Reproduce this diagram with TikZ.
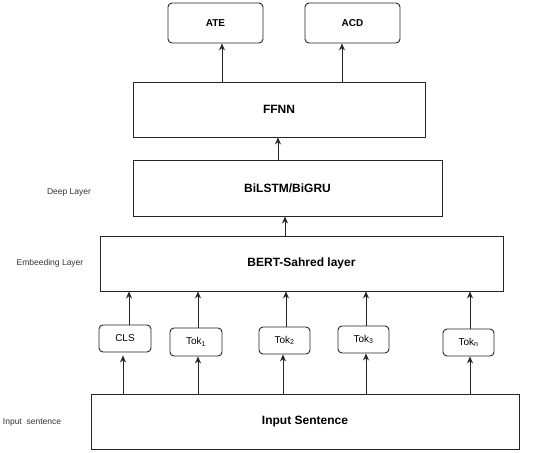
\documentclass[tikz,border=0pt]{standalone}
\usepackage{fontspec}
\setmainfont{Liberation Sans}
\usetikzlibrary{arrows.meta}
\begin{document}
\begin{tikzpicture}[x=1pt,y=-1pt,
  box/.style={draw=black!85,line width=0.9pt,fill=white,inner sep=0pt},
  rbox/.style={box,rounded corners=4pt},
  big/.style={font=\bfseries\fontsize{12}{14}\selectfont},
  mid/.style={font=\bfseries\fontsize{10}{12}\selectfont},
  tok/.style={font=\fontsize{10}{12}\selectfont},
  lab/.style={font=\fontsize{8.5}{10}\selectfont,text=black!80},
  arr/.style={draw=black!85,line width=0.9pt,-{Stealth[length=7pt,width=6pt]}}]
\useasboundingbox (0,0) rectangle (550,453);
% boxes
\node[rbox,minimum width=95pt,minimum height=40pt] (ate) at (215.5,23) {};
\node[mid] at (ate.center) {ATE};
\node[rbox,minimum width=95pt,minimum height=40pt] (acd) at (352.5,23) {};
\node[mid] at (acd.center) {ACD};
\node[box,minimum width=292pt,minimum height=55pt] (ffnn) at (279,109.5) {};
\node[big] at (ffnn.center) {FFNN};
\node[box,minimum width=309pt,minimum height=56pt] (bil) at (287.5,188) {};
\node[big] at (bil.center) {BiLSTM/BiGRU};
\node[box,minimum width=403pt,minimum height=55pt] (bert) at (301.5,263.5) {};
\node[big] at (bert.center) {BERT-Sahred layer};
\node[box,minimum width=428pt,minimum height=55pt] (inp) at (305,421.5) {};
\node[big] at (inp.center) {Input Sentence};
% tokens
\node[rbox,minimum width=52pt,minimum height=27pt] (cls) at (125,338.5) {};
\node[tok] at (cls.center) {CLS};
\node[rbox,minimum width=52pt,minimum height=28pt] (t1) at (196,342) {};
\node[tok] at (t1.center) {Tok\textsubscript{1}};
\node[rbox,minimum width=51pt,minimum height=27pt] (t2) at (284.5,340.5) {};
\node[tok] at (t2.center) {Tok\textsubscript{2}};
\node[rbox,minimum width=51pt,minimum height=27pt] (t3) at (363.5,339.5) {};
\node[tok] at (t3.center) {Tok\textsubscript{3}};
\node[rbox,minimum width=51pt,minimum height=27pt] (tn) at (468.5,342.5) {};
\node[tok] at (tn.center) {Tok\textsubscript{n}};
% side labels
\node[lab] (l1) at (69,192) {Deep Layer};
\node[lab] (l2) at (50,263) {Embeeding Layer};
\node[lab] (l3) at (32,422) {Input\ \ sentence};
% arrows
\draw[arr] (ffnn.north -| 222,0) -- (ate.south -| 222,0);
\draw[arr] (ffnn.north -| 342,0) -- (acd.south -| 342,0);
\draw[arr] (bil.north -| 278,0) -- (ffnn.south -| 278,0);
\draw[arr] (bert.north -| 285,0) -- (bil.south -| 285,0);
\draw[arr] (cls.north -| 129,0) -- (bert.south -| 129,0);
\draw[arr] (t1.north -| 198,0) -- (bert.south -| 198,0);
\draw[arr] (t2.north -| 286,0) -- (bert.south -| 286,0);
\draw[arr] (t3.north -| 366,0) -- (bert.south -| 366,0);
\draw[arr] (tn.north -| 470,0) -- (bert.south -| 470,0);
\draw[arr] (inp.north -| 123,0) -- ([yshift=-3pt]cls.south -| 123,0);
\draw[arr] (inp.north -| 198,0) -- (t1.south -| 198,0);
\draw[arr] (inp.north -| 283,0) -- (t2.south -| 283,0);
\draw[arr] (inp.north -| 366,0) -- (t3.south -| 366,0);
\draw[arr] (inp.north -| 470,0) -- (tn.south -| 470,0);
\end{tikzpicture}
\end{document}
